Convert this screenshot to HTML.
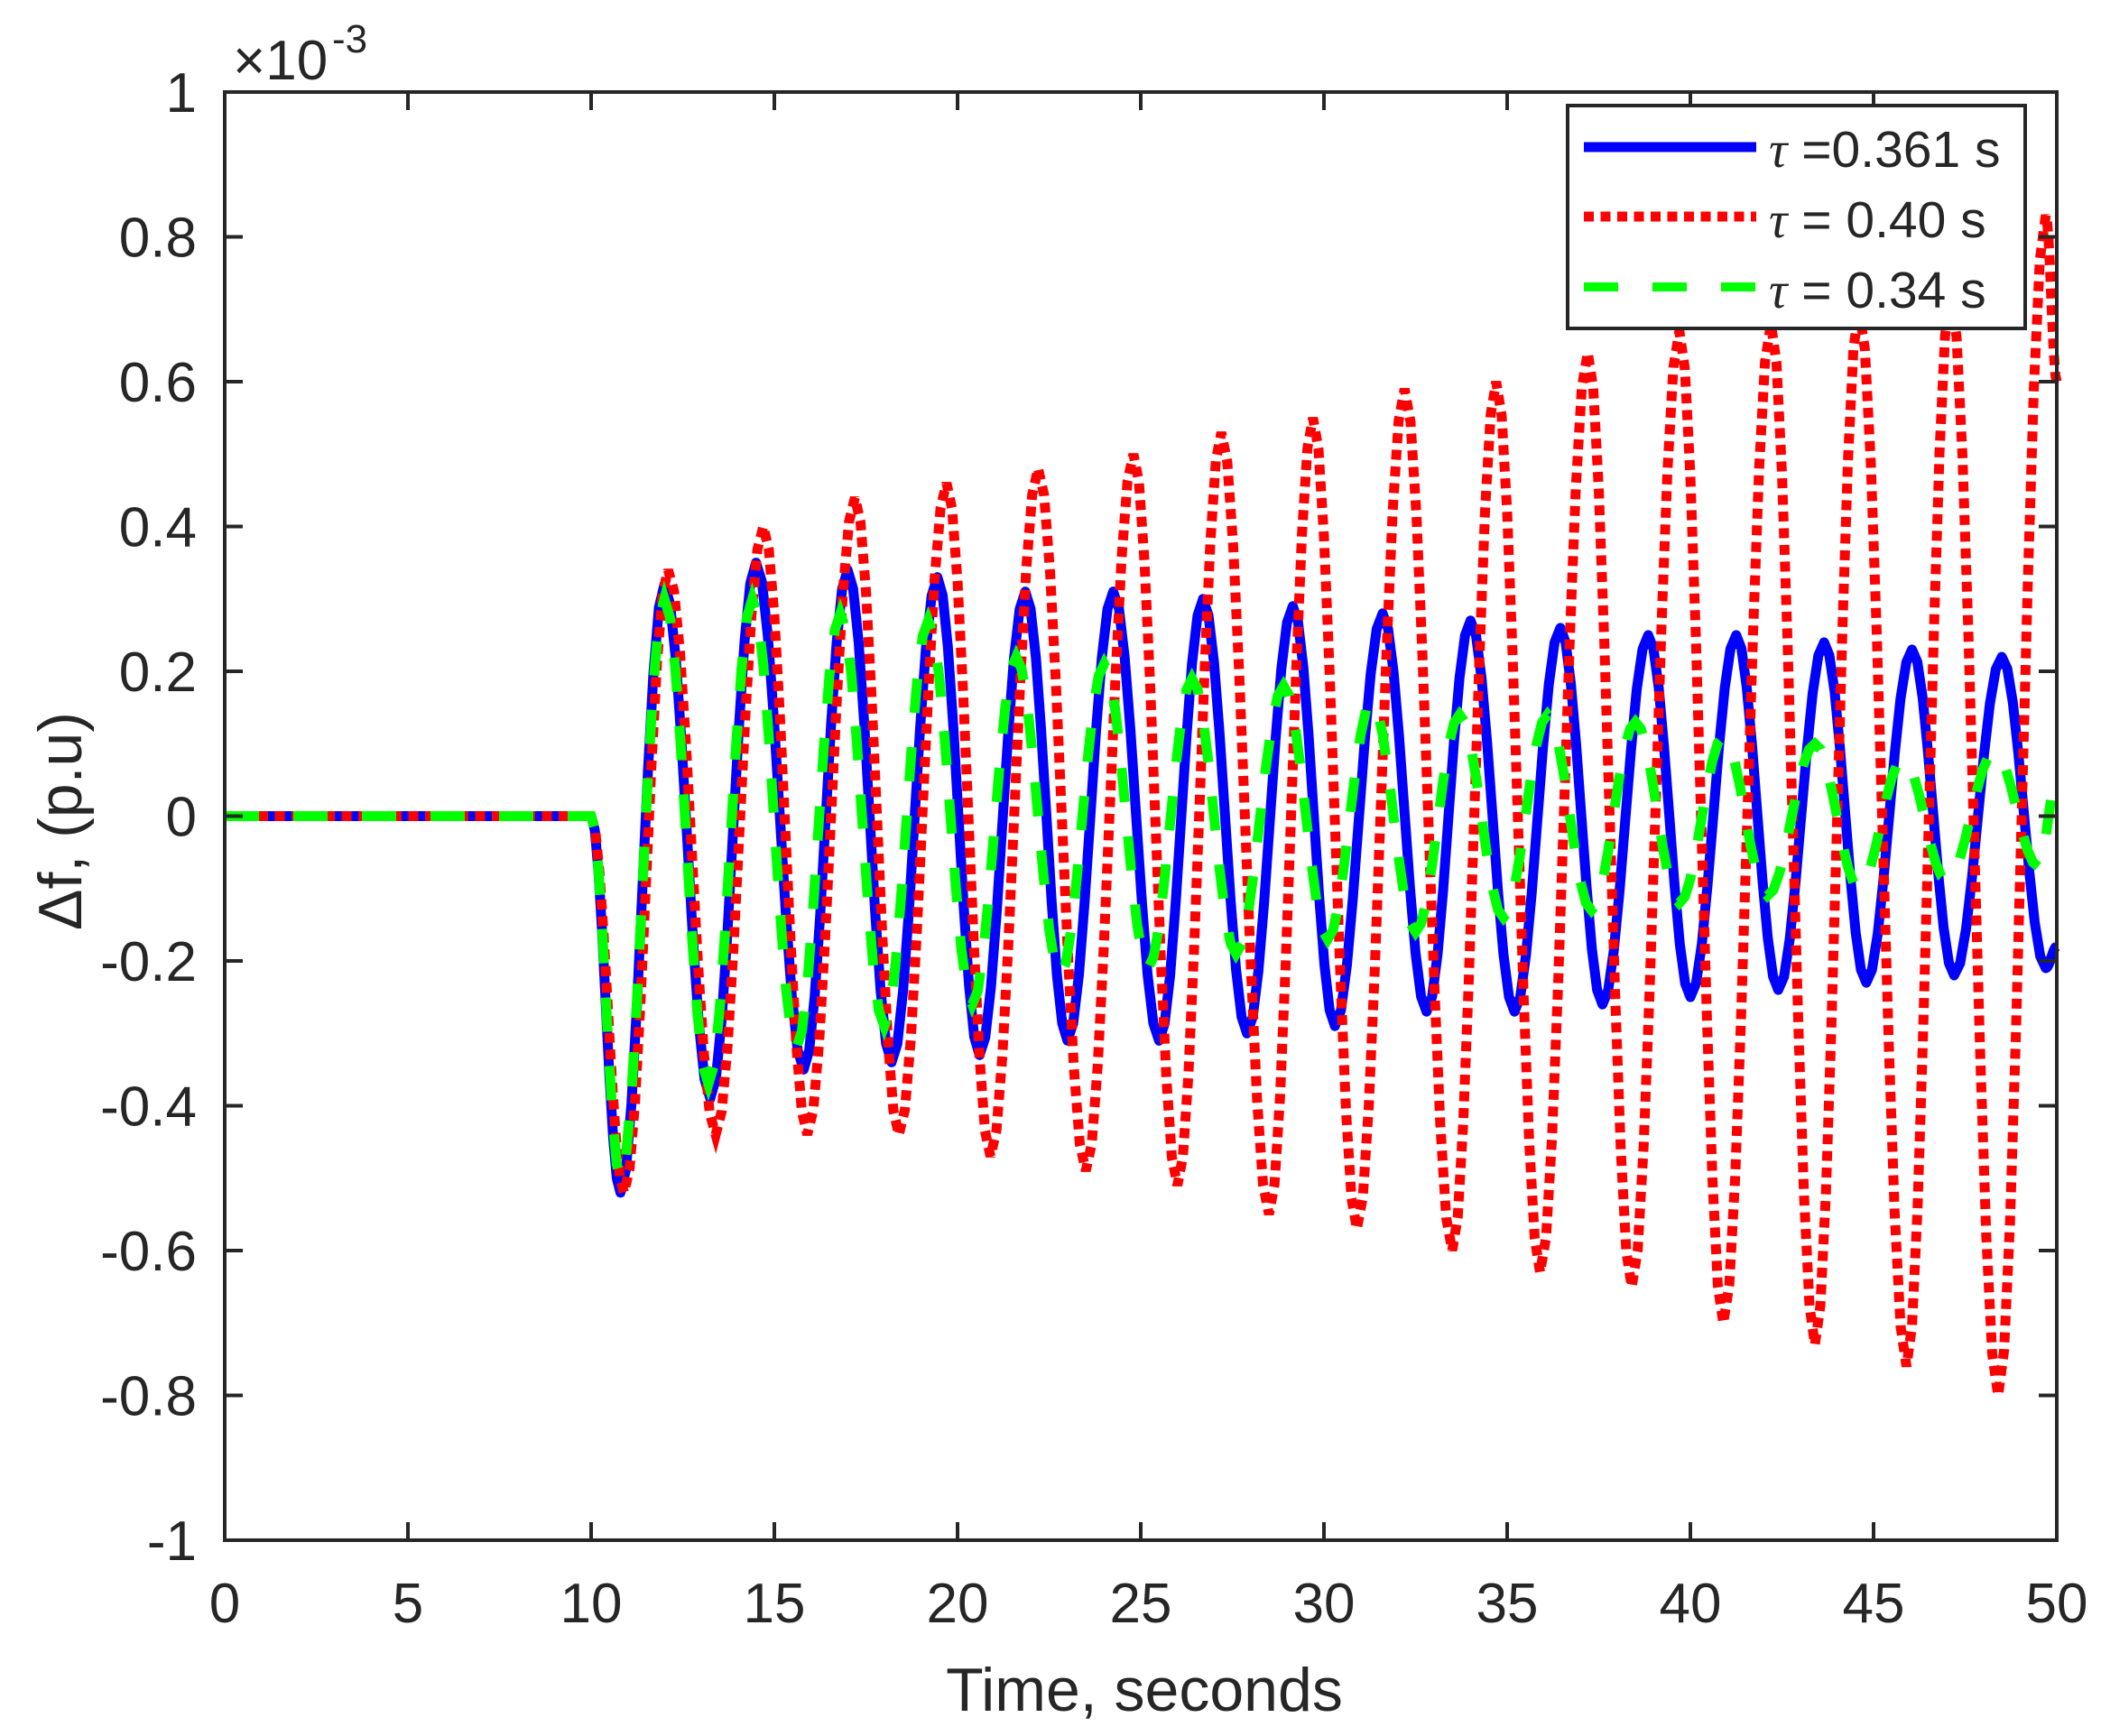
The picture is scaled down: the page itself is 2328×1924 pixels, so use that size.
<!DOCTYPE html>
<html><head><meta charset="utf-8"><style>
html,body{margin:0;padding:0;background:#fff;}
svg{display:block;}
text{font-family:"Liberation Sans",Arial,sans-serif;fill:#262626;}
</style></head><body>
<svg id="s" width="2328" height="1924" viewBox="0 0 2328 1924" xmlns="http://www.w3.org/2000/svg">
<rect width="2328" height="1924" fill="#fff"/>
<g id="data"></g>
<g id="axes" stroke="#262626" stroke-width="4" fill="none"></g>
<g id="labels" font-size="62"></g>
<text x="258" y="88" font-size="62">×10</text>
<text x="368" y="58" font-size="44">-3</text>
<text x="1268" y="1896" font-size="68" text-anchor="middle">Time, seconds</text>
<text transform="translate(90,910) rotate(-90)" font-size="68" text-anchor="middle">Δf, (p.u)</text>
<g>
<rect x="1737" y="117" width="507" height="247" fill="#fff" stroke="#262626" stroke-width="4"/>
<line x1="1755" y1="163" x2="1946" y2="163" stroke="#0000ff" stroke-width="11"/>
<line x1="1755" y1="240" x2="1946" y2="240" stroke="#ff0000" stroke-width="11" stroke-dasharray="11 7.5"/>
<line x1="1755" y1="318" x2="1946" y2="318" stroke="#00ff00" stroke-width="10" stroke-dasharray="38 38"/>
<text x="1960" y="185" font-size="57" fill="#000"><tspan font-family="Liberation Serif" font-style="italic">τ</tspan> =0.361 s</text>
<text x="1960" y="263" font-size="57" fill="#000"><tspan font-family="Liberation Serif" font-style="italic">τ</tspan> = 0.40 s</text>
<text x="1960" y="341" font-size="57" fill="#000"><tspan font-family="Liberation Serif" font-style="italic">τ</tspan> = 0.34 s</text>
</g>
</svg>
<script>
var L=249,R=2279,T=102,B=1707;
function X(t){return L+(t/50)*(R-L);}
function Y(v){return (T+B)/2 - v*(B-T)/2;}
var blue=[[0,0],[10,0],[10.8,-0.52],[12.0,0.32],[13.25,-0.39],[14.5,0.35],[15.8,-0.35],[17.0,0.34],[18.2,-0.34],[19.45,0.33],[20.6,-0.33],[21.85,0.31],[23.0,-0.31],[24.25,0.31],[25.5,-0.31],[26.7,0.30],[27.9,-0.30],[29.15,0.29],[30.3,-0.29],[31.6,0.28],[32.8,-0.27],[34.0,0.27],[35.2,-0.27],[36.45,0.26],[37.6,-0.26],[38.85,0.25],[40.0,-0.25],[41.25,0.25],[42.4,-0.24],[43.65,0.24],[44.8,-0.23],[46.05,0.23],[47.2,-0.22],[48.5,0.22],[49.7,-0.21],[50,-0.18]];
var red=[[0,0],[10,0],[10.9,-0.52],[12.1,0.34],[13.4,-0.44],[14.7,0.40],[15.9,-0.44],[17.2,0.44],[18.4,-0.44],[19.7,0.46],[20.9,-0.47],[22.2,0.48],[23.5,-0.49],[24.8,0.50],[26.0,-0.51],[27.2,0.53],[28.5,-0.55],[29.7,0.55],[30.9,-0.57],[32.2,0.59],[33.5,-0.60],[34.7,0.60],[35.9,-0.63],[37.2,0.64],[38.4,-0.65],[39.7,0.67],[40.9,-0.70],[42.2,0.68],[43.4,-0.73],[44.6,0.70],[45.9,-0.76],[47.1,0.72],[48.4,-0.80],[49.7,0.83],[50,0.60]];
var green=[[0,0],[10,0],[10.8,-0.50],[12.0,0.30],[13.2,-0.37],[14.4,0.30],[15.6,-0.32],[16.8,0.28],[18.0,-0.29],[19.2,0.27],[20.4,-0.26],[21.6,0.22],[22.8,-0.22],[24.0,0.21],[25.2,-0.21],[26.4,0.19],[27.6,-0.19],[28.9,0.18],[30.1,-0.17],[31.3,0.16],[32.5,-0.16],[33.7,0.14],[34.9,-0.14],[36.1,0.14],[37.3,-0.13],[38.5,0.13],[39.7,-0.12],[40.9,0.11],[42.1,-0.11],[43.4,0.10],[44.6,-0.10],[45.8,0.08],[47.0,-0.09],[48.3,0.09],[49.5,-0.07],[50,0.05]];
function path(p){
 var d="M"+X(0)+","+Y(0);
 for(var i=1;i<p.length;i++){
  var a=p[i-1],b=p[i];var n=(i==1)?1:8;
  for(var k=1;k<=n;k++){var s=k/n;var v=a[1]+(b[1]-a[1])*(1-Math.cos(Math.PI*s))/2;
   d+=" L"+X(a[0]+(b[0]-a[0])*s).toFixed(1)+","+Y(v).toFixed(1);}
 }
 return d;
}
var NS="http://www.w3.org/2000/svg";
function add(g,tag,attrs,txt){var e=document.createElementNS(NS,tag);for(var k in attrs)e.setAttribute(k,attrs[k]);if(txt!=null)e.textContent=txt;g.appendChild(e);return e;}
var dg=document.getElementById("data");
add(dg,"path",{d:path(blue),fill:"none",stroke:"#0000ff","stroke-width":11,"stroke-linejoin":"round"});
add(dg,"path",{d:path(red),fill:"none",stroke:"#ff0000","stroke-width":11,"stroke-dasharray":"11 7.5"});
add(dg,"path",{d:path(green),fill:"none",stroke:"#00ff00","stroke-width":11,"stroke-dasharray":"38 38"});
var ag=document.getElementById("axes"),lg=document.getElementById("labels");
add(ag,"rect",{x:L,y:T,width:R-L,height:B-T});
for(var i=0;i<=10;i++){var x=X(i*5);
 add(ag,"line",{x1:x,y1:B,x2:x,y2:B-20});add(ag,"line",{x1:x,y1:T,x2:x,y2:T+20});
 add(lg,"text",{x:x,y:1798,"text-anchor":"middle"},String(i*5));}
for(var j=0;j<=10;j++){var v=1-j*0.2;var y=T+j*(B-T)/10;
 add(ag,"line",{x1:L,y1:y,x2:L+20,y2:y});add(ag,"line",{x1:R,y1:y,x2:R-20,y2:y});
 var s=(Math.abs(v)<1e-9)?"0":(Math.abs(Math.abs(v)-1)<1e-9?(v<0?"-1":"1"):v.toFixed(1));
 add(lg,"text",{x:218,y:y+22,"text-anchor":"end"},s);}
</script>
</body></html>
